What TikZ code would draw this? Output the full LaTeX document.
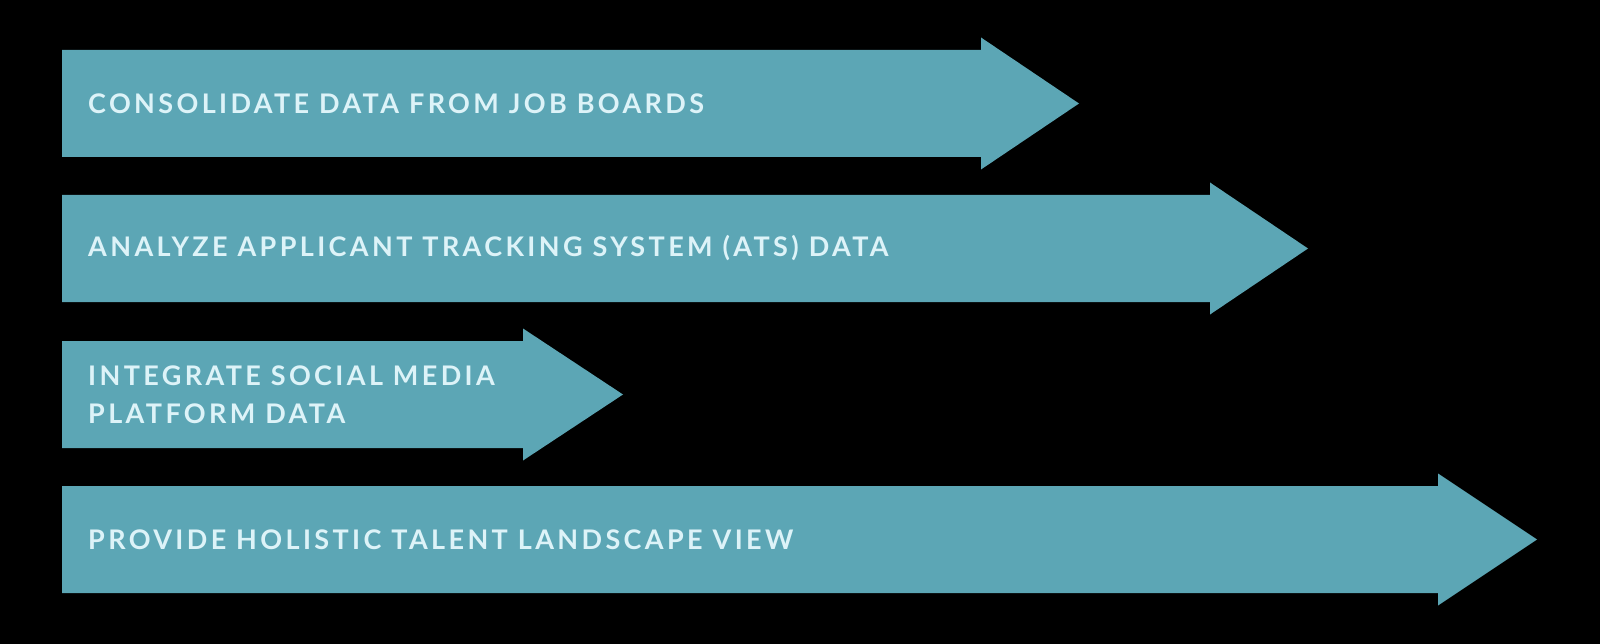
\documentclass[tikz,border=0pt]{standalone}
\usepackage{fontspec}
\setmainfont{Lato}[LetterSpace=12.5]
\definecolor{arrowfill}{HTML}{5CA6B5}
\definecolor{arrowtext}{HTML}{DDF3F8}
\begin{document}
\begin{tikzpicture}[x=1pt,y=-1pt,
  arrowshape/.style={fill=arrowfill,draw=none},
  label/.style={anchor=west,inner sep=0pt,text=arrowtext,font=\fontsize{27}{38}\selectfont\bfseries,align=left}]
\fill[black] (0,0) rectangle (1600,644);
\useasboundingbox (0,0) rectangle (1600,644);
% arrow: left x, top y, bottom y, head base x, tip x
\newcommand{\myarrow}[5]{%
  \path[arrowshape] (#1,#2) -- (#4,#2) -- (#4,#2-12.5) -- (#5,{(#2+#3)/2}) -- (#4,#3+12.5) -- (#4,#3) -- (#1,#3) -- cycle;}
\myarrow{62}{50}{157}{981}{1079}
\myarrow{62}{195}{302}{1210}{1308}
\myarrow{62}{341}{448}{523}{623}
\myarrow{62}{486}{593}{1438}{1537}
\node[label] (t1) at (88,103.5) {CONSOLIDATE DATA FROM JOB BOARDS};
\node[label] (t2) at (88,248.5) {ANALYZE APPLICANT TRACKING SYSTEM (ATS) DATA};
\node[label] (t3) at (88,394.5) {INTEGRATE SOCIAL MEDIA\\PLATFORM DATA};
\node[label] (t4) at (88,539.5) {PROVIDE HOLISTIC TALENT LANDSCAPE VIEW};
\end{tikzpicture}
\end{document}
